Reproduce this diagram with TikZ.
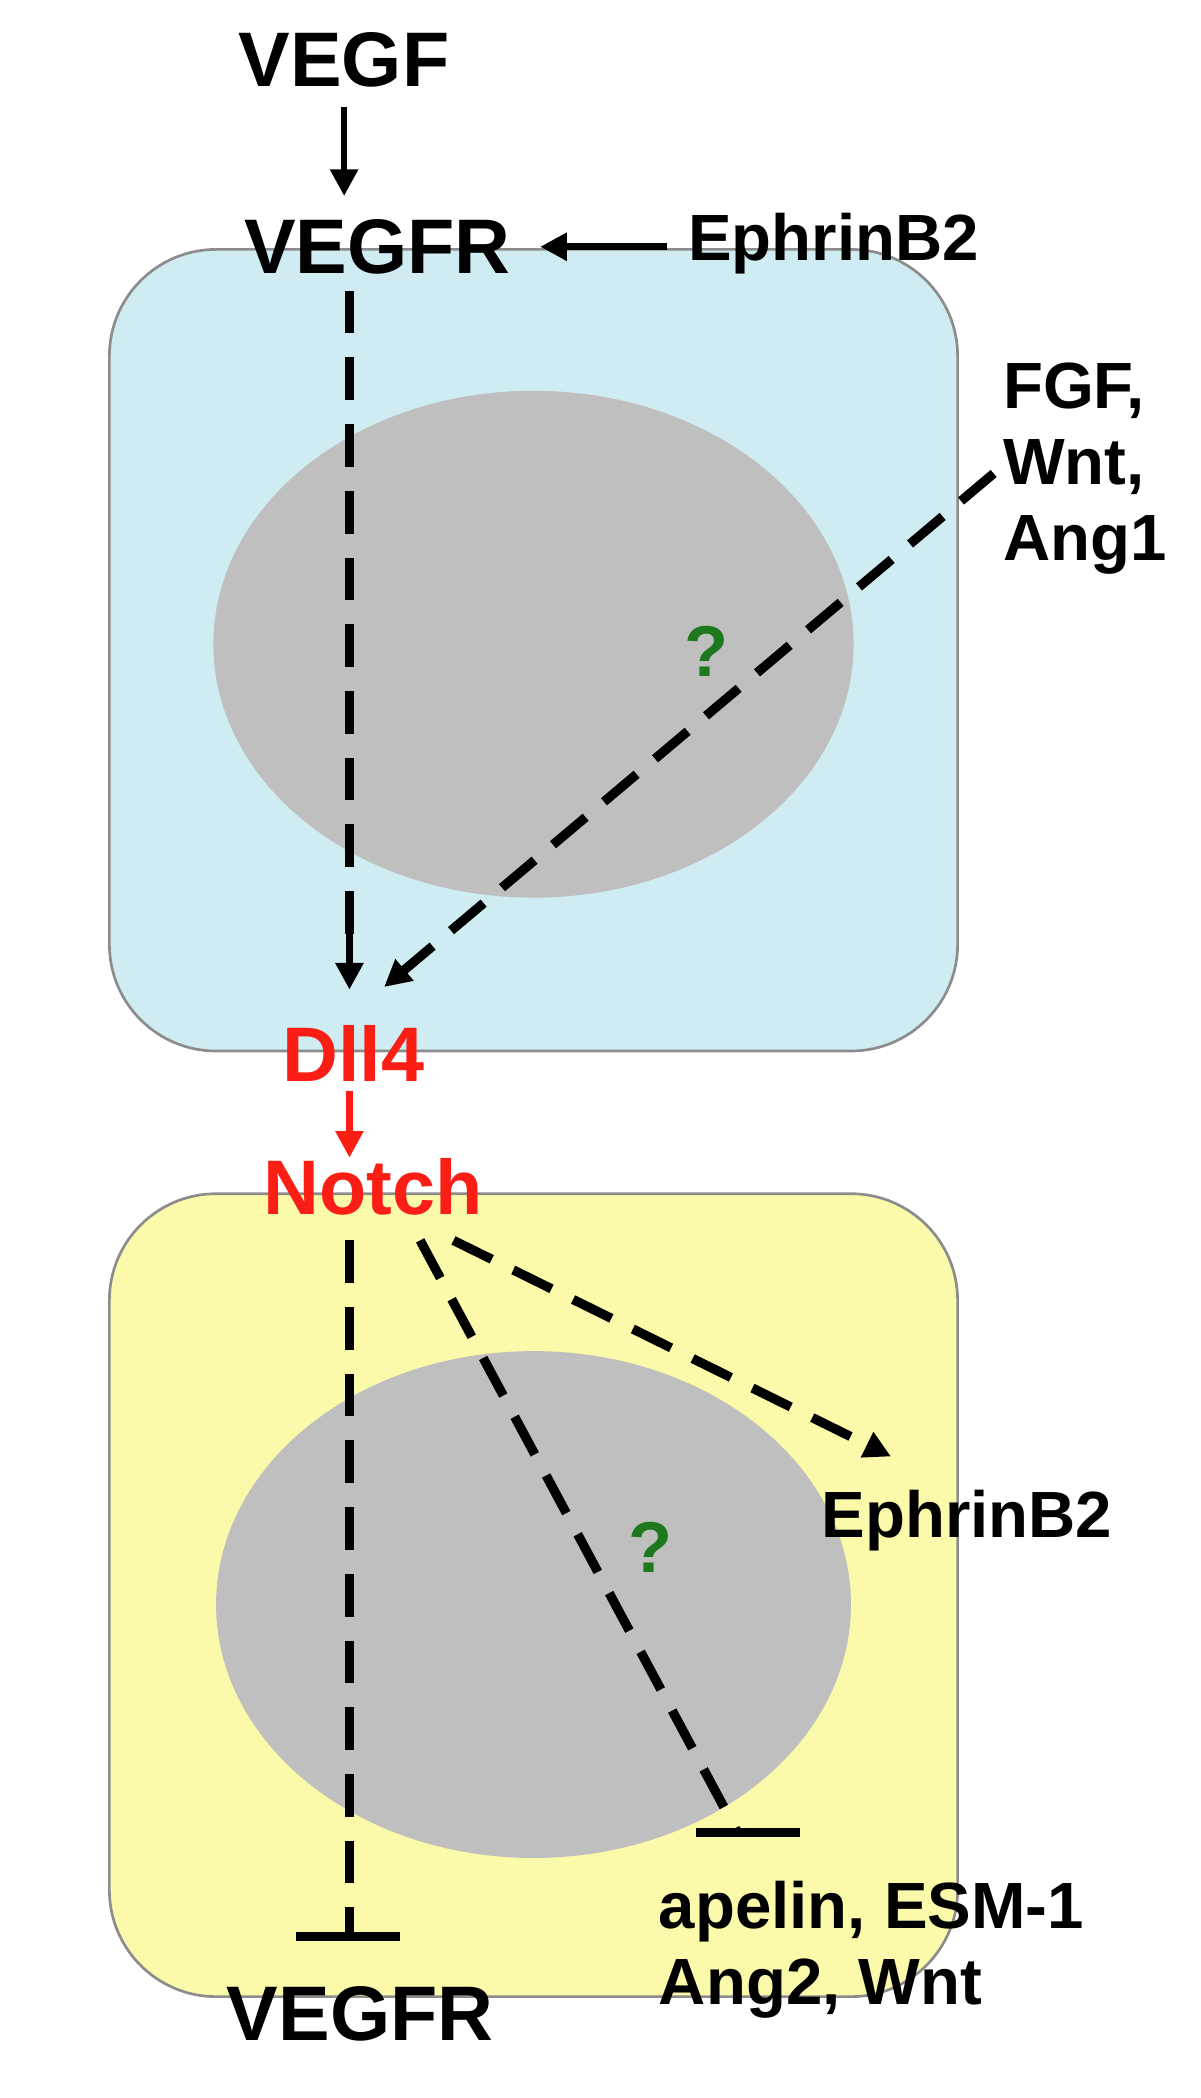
\documentclass[tikz,border=0pt]{standalone}
\usepackage{fontspec}
\setmainfont{Liberation Sans}
\usetikzlibrary{arrows.meta}
\definecolor{cellblue}{RGB}{206,236,241}
\definecolor{cellyellow}{RGB}{250,250,170}
\definecolor{nuc}{RGB}{191,191,191}
\definecolor{qgreen}{RGB}{30,120,30}
\definecolor{nred}{RGB}{250,30,20}
\begin{document}
\begin{tikzpicture}[x=0.5pt,y=-0.5pt,
  big/.style={font=\bfseries\fontsize{29}{31}\selectfont},
  lab/.style={font=\bfseries\fontsize{24.5}{28.5}\selectfont},
  dsh/.style={line width=3.5pt,dash pattern=on 16pt off 9pt},
  arr/.style={-{Triangle[length=10pt,width=10pt]}},
  cell/.style={draw=gray!90,line width=1pt,rounded corners=40pt}]
\useasboundingbox (0,0) rectangle (900,1573);
\draw[cell,fill=cellblue] (82,187) rectangle (718,788);
\fill[nuc] (400,483) ellipse [x radius=240,y radius=190];
\draw[cell,fill=cellyellow] (82,895) rectangle (718,1497);
\fill[nuc] (400,1203) ellipse [x radius=238,y radius=190];

\node[big] (vegf) at (258,45) {VEGF};
\node[big] (vegfr) at (283,185) {VEGFR};
\node[lab] (eph1) at (625,183) {EphrinB2};
\node[lab,align=left,anchor=north west] (fgf) at (745,265) {FGF,\\Wnt,\\Ang1};
\node[font=\bfseries\fontsize{27}{29}\selectfont,text=qgreen] (q1) at (530,488) {?};
\node[big,text=nred] (dll) at (265,790) {Dll4};
\node[big,text=nred] (notch) at (280,890) {Notch};
\node[lab] (eph2) at (725,1140) {EphrinB2};
\node[font=\bfseries\fontsize{27}{29}\selectfont,text=qgreen] (q2) at (488,1160) {?};
\node[big] (vegfr2) at (270,1510) {VEGFR};
\node[lab,align=left,anchor=north west] (ap) at (487,1403) {apelin, ESM-1\\Ang2, Wnt};

\coordinate (a1) at (258,80); \coordinate (a2) at (258,147);
\draw[arr,line width=2.5pt] (a1) -- (a2);
\coordinate (e1) at (500,185); \coordinate (e2) at (405,185);
\draw[arr,line width=2.5pt] (e1) -- (e2);
\coordinate (v1) at (262,218); \coordinate (v2) at (262,742);
\draw[dsh] (v1) -- (262,700); \draw[arr,line width=2.5pt] (262,690) -- (v2);
\coordinate (f1) at (745,355); \coordinate (f2) at (288,740);
\draw[dsh,arr] (f1) -- (f2);
\coordinate (r1) at (262,818); \coordinate (r2) at (262,868);
\draw[arr,line width=2.5pt,draw=nred,fill=nred] (r1) -- (r2);
\coordinate (n1) at (262,930); \coordinate (n2) at (262,1452);
\draw[dsh] (n1) -- (n2);
\draw[line width=3.5pt] (222,1452) -- (300,1452);
\coordinate (m1) at (340,930); \coordinate (m2) at (668,1092);
\draw[dsh,arr] (m1) -- (m2);
\coordinate (k1) at (315,930); \coordinate (k2) at (553,1374);
\draw[dsh] (k1) -- (k2);
\draw[line width=3.5pt] (522,1374) -- (600,1374);
\end{tikzpicture}
\end{document}
